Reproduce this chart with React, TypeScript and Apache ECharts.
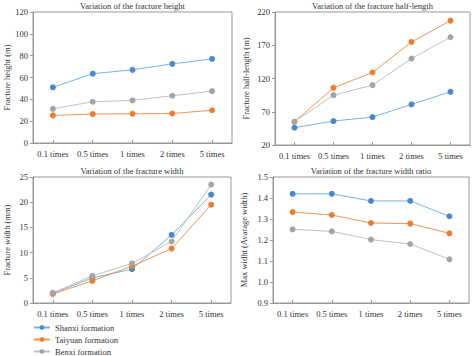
import React, { useEffect, useRef } from "react";
import * as echarts from "echarts";

const categories = ["0.1 times", "0.5 times", "1 times", "2 times", "5 times"];
const seriesNames = ["Shanxi formation", "Taiyuan formation", "Benxi formation"];

// Panel 1: fracture height (m)
const heightShanxi = [51, 63.5, 67, 72.5, 77];
const heightTaiyuan = [25.3, 26.5, 26.8, 27, 30];
const heightBenxi = [31.3, 37.8, 39, 43.3, 47.5];

// Panel 2: fracture half-length (m)
const lengthShanxi = [46, 56, 62, 81, 100];
const lengthTaiyuan = [55, 106, 129, 175, 207];
const lengthBenxi = [55, 95, 110, 150, 182];

// Panel 3: fracture width (mm)
const widthShanxi = [1.9, 5.0, 6.7, 13.5, 21.5];
const widthTaiyuan = [1.8, 4.4, 7.3, 10.8, 19.5];
const widthBenxi = [2.0, 5.4, 7.85, 12.2, 23.5];

// Panel 4: width ratio
const ratioShanxi = [1.42, 1.42, 1.386, 1.386, 1.313];
const ratioTaiyuan = [1.333, 1.319, 1.281, 1.278, 1.232];
const ratioBenxi = [1.251, 1.241, 1.202, 1.181, 1.108];

const titles = [
  "Variation of the fracture height",
  "Variation of the fracture half-length",
  "Variation of the fracture width",
  "Variation of the fracture width ratio",
];
const yNames = [
  "Fracture height (m)",
  "Fracture half-length (m)",
  "Fracture width (mm)",
  "Max widht (Avarage width)",
];

const markerColors = ["#4a8ac9", "#ed7d31", "#a5a5a5"];
const lineColors = ["#74b4e6", "#f0945a", "#c0c0c0"];
const FONT = "Liberation Serif";

export default function App() {
  const ref = useRef<HTMLDivElement>(null);
  useEffect(() => {
    if (!ref.current) return;
    const chart = echarts.init(ref.current, undefined, { renderer: "svg" });
    const grids = [
      { left: 33, top: 12, width: 199, height: 131 },
      { left: 275, top: 12, width: 195, height: 133 },
      { left: 33, top: 177, width: 198, height: 126 },
      { left: 273, top: 177, width: 196, height: 126 },
    ];
    const yCfg = [
      { min: 0, max: 120, interval: 20, gap: 22, dec: 0 },
      { min: 20, max: 220, interval: 50, gap: 25, dec: 0 },
      { min: 0, max: 25, interval: 5, gap: 22, dec: 0 },
      { min: 0.9, max: 1.5, interval: 0.1, gap: 25, dec: 1 },
    ];
    const data = [
      [heightShanxi, heightTaiyuan, heightBenxi],
      [lengthShanxi, lengthTaiyuan, lengthBenxi],
      [widthShanxi, widthTaiyuan, widthBenxi],
      [ratioShanxi, ratioTaiyuan, ratioBenxi],
    ];
    const textStyle = { fontFamily: FONT, fontSize: 8.5, color: "#333" };
    const axisLine = { show: true, lineStyle: { color: "#999", width: 1 } };
    const series: any[] = [];
    data.forEach((panel, gi) => {
      panel.forEach((vals, si) => {
        series.push({
          type: "line",
          name: seriesNames[si],
          xAxisIndex: gi,
          yAxisIndex: gi,
          data: vals,
          symbol: "circle",
          symbolSize: 6,
          itemStyle: { color: markerColors[si] },
          lineStyle: { color: lineColors[si], width: 1 },
        });
      });
    });
    chart.setOption({
      animation: false,
      textStyle: { fontFamily: FONT },
      title: titles.map((t, i) => ({
        text: t,
        left: grids[i].left + grids[i].width / 2,
        top: grids[i].top - 11,
        textAlign: "center",
        padding: 0,
        textStyle: { ...textStyle, fontWeight: "normal", fontSize: 8.5 },
      })),
      legend: {
        orient: "vertical",
        left: 33,
        top: 323,
        height: 40,
        itemWidth: 16,
        itemHeight: 6,
        itemGap: 3,
        padding: 0,
        textStyle: { ...textStyle, fontSize: 8.5 },
        data: seriesNames,
      },
      grid: grids.map((g) => ({
        ...g,
        show: true,
        borderColor: "#999",
        borderWidth: 1,
        containLabel: false,
      })),
      xAxis: grids.map((_, i) => ({
        type: "category",
        gridIndex: i,
        data: categories,
        boundaryGap: true,
        axisLine,
        axisTick: { show: true, alignWithLabel: true, inside: true, length: 3, lineStyle: { color: "#999" } },
        axisLabel: { ...textStyle, margin: 6, interval: 0 },
        splitLine: { show: false },
      })),
      yAxis: yCfg.map((c, i) => ({
        type: "value",
        gridIndex: i,
        min: c.min,
        max: c.max,
        interval: c.interval,
        name: yNames[i],
        nameLocation: "middle",
        nameGap: c.gap,
        nameTextStyle: { ...textStyle, fontSize: 8.5 },
        axisLine,
        axisTick: { show: true, length: 3, lineStyle: { color: "#999" } },
        axisLabel: {
          ...textStyle,
          margin: 5,
          formatter: (v: number) => v.toFixed(c.dec),
        },
        splitLine: { show: false },
      })),
      series,
    });
    return () => chart.dispose();
  }, []);
  return (
    <div
      ref={ref}
      style={{ position: "absolute", left: 0, top: 0, width: 474, height: 356 }}
    />
  );
}
